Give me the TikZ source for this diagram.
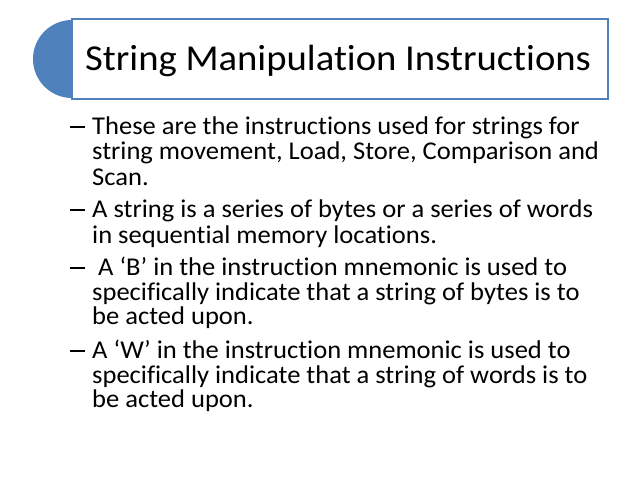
\documentclass[tikz,border=0pt]{standalone}
\usepackage{fontspec}
\setmainfont{Carlito}[Ligatures=NoCommon]
\newfontfamily\bodyfont{Carlito}[Ligatures=NoCommon,FakeStretch=1.037]
\newfontfamily\headfont{Carlito}[Ligatures=NoCommon,FakeStretch=1.06]
\definecolor{accent}{HTML}{4F81BD}
\newcommand{\slidedash}{\rule[6pt]{15pt}{1.9pt}}
\begin{document}
\begin{tikzpicture}[x=1pt,y=-1pt,
  bodytext/.style={anchor=base west,inner sep=0pt,font=\bodyfont\fontsize{25.6}{25}\selectfont},
  dashmark/.style={anchor=base west,inner sep=0pt,font=\bodyfont\fontsize{25.6}{25}\selectfont},
  titletext/.style={anchor=base west,inner sep=0pt,font=\headfont\fontsize{36.5}{40}\selectfont}]
\useasboundingbox[fill=white] (0,0) rectangle (640,480);
\fill[accent] (72,59) circle[radius=39];
\draw[accent,line width=1.4pt,fill=white] (72,19) rectangle (608,99);
\node[titletext] (title) at (85,70) {String Manipulation Instructions};
% bullet 1
\node[dashmark] (d1) at (70,134) {\slidedash};
\node[bodytext] (l1) at (92,134) {These are the instructions used for strings for};
\node[bodytext] (l2) at (92,159) {string movement, Load, Store, Comparison and};
\node[bodytext] (l3) at (92,185) {Scan.};
% bullet 2
\node[dashmark] (d2) at (70,217) {\slidedash};
\node[bodytext] (l4) at (92,217) {A string is a series of bytes or a series of words};
\node[bodytext] (l5) at (92,243) {in sequential memory locations.};
% bullet 3
\node[dashmark] (d3) at (70,275) {\slidedash};
\node[bodytext] (l6) at (92,275) {\ A ‘B’ in the instruction mnemonic is used to};
\node[bodytext] (l7) at (92,300) {specifically indicate that a string of bytes is to};
\node[bodytext] (l8) at (92,324) {be acted upon.};
% bullet 4
\node[dashmark] (d4) at (70,358) {\slidedash};
\node[bodytext] (l9) at (92,358) {A ‘W’ in the instruction mnemonic is used to};
\node[bodytext] (l10) at (92,383) {specifically indicate that a string of words is to};
\node[bodytext] (l11) at (92,407) {be acted upon.};
\end{tikzpicture}
\end{document}
